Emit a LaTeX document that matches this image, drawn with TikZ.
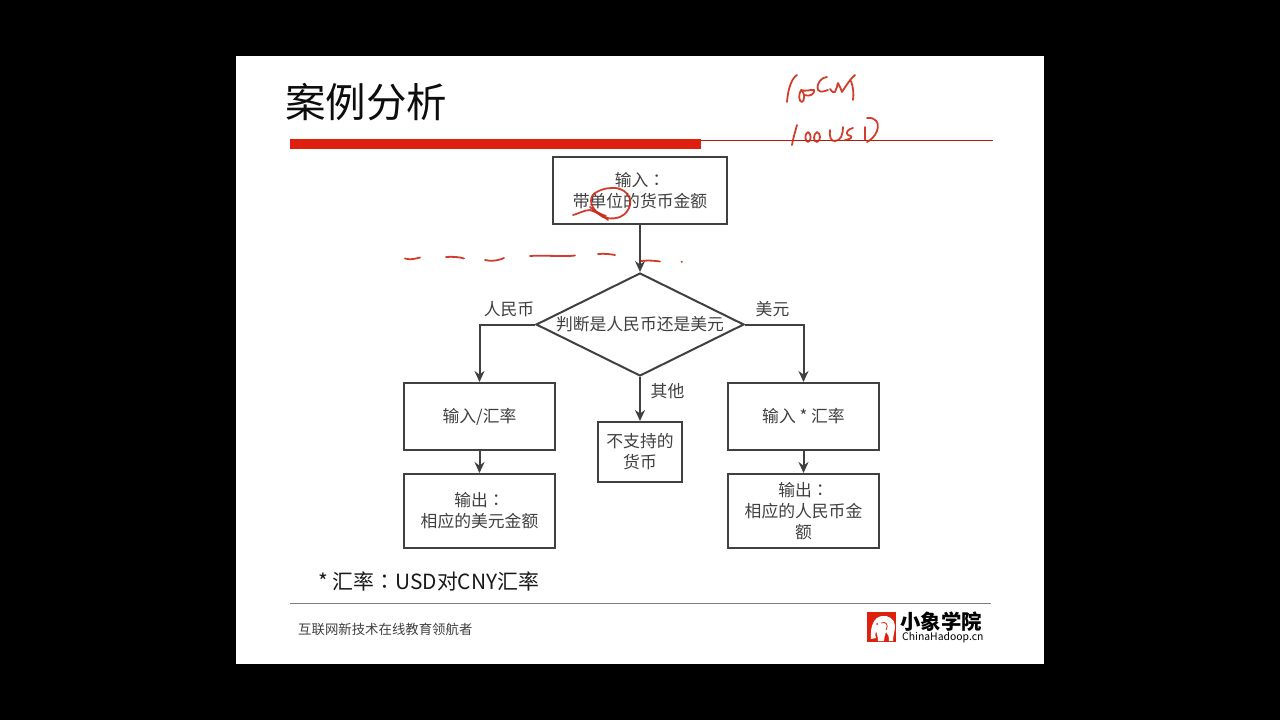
\documentclass[tikz,border=0pt]{standalone}
\usepackage{fontspec}
\setmainfont{Noto Sans CJK SC}
\newfontfamily\colonfont{Noto Sans CJK TC}
\newcommand{\fwcolon}{{\colonfont ：}}
\usetikzlibrary{shapes.geometric,arrows.meta}
\definecolor{inkred}{HTML}{CC2A18}
\definecolor{barred}{HTML}{E0200F}
\definecolor{boxgray}{HTML}{404040}
\definecolor{txtgray}{HTML}{404040}
\tikzset{
	flowbox/.style={draw=boxgray,line width=2pt,fill=white,inner sep=0pt,align=center,text=txtgray,font=\fontsize{16.8}{21}\selectfont},
	flowlabel/.style={text=txtgray,inner sep=0pt,font=\fontsize{16.8}{20}\selectfont},
	flowline/.style={draw=boxgray,line width=2pt,-{Stealth[length=11pt,width=10pt]}},
	ink/.style={draw=inkred,line width=1.8pt,line cap=round,line join=round,opacity=0.9}
}
\begin{document}
\begin{tikzpicture}[x=1pt,y=-1pt]
	\useasboundingbox (0,0) rectangle (1280,720);
	\fill[black] (0,0) rectangle (1280,720);
	\fill[white] (236,56) rectangle (1044,664);
	% header
	\node[anchor=west,inner sep=0pt,text=black!95,font=\fontsize{40.5}{45}\selectfont] (title) at (285,102) {案例分析};
	\fill[barred] (290,139) rectangle (701,149);
	\draw[barred!80!black,line width=1pt] (701,140)--(993,140);
	% flow chart
	\node[flowbox,minimum width=174pt,minimum height=67pt] (input) at (640,190.5) {输入\fwcolon\\带单位的货币金额};
	\node[flowbox,shape=diamond,minimum width=208pt,minimum height=103pt,aspect=2.02] (judge) at (640,324.5) {判断是人民币还是美元};
	\node[flowbox,minimum width=151pt,minimum height=67pt] (divide) at (479.5,416.5) {输入/汇率};
	\node[flowbox,minimum width=84pt,minimum height=60pt] (other) at (640,452) {不支持的\\货币};
	\node[flowbox,minimum width=151pt,minimum height=67pt] (multiply) at (803.5,416.5) {输入 * 汇率};
	\node[flowbox,minimum width=151pt,minimum height=74pt] (usd) at (479.5,511) {输出\fwcolon\\相应的美元金额};
	\node[flowbox,minimum width=151pt,minimum height=74pt] (cny) at (803.5,511) {输出\fwcolon\\相应的人民币金\\额};
	\draw[flowline] (input)--(judge);
	\draw[flowline] (judge.west)-|(divide.north);
	\draw[flowline] (judge.east)-|(multiply.north);
	\draw[flowline] (judge.south)--(other.north);
	\draw[flowline] (divide)--(usd);
	\draw[flowline] (multiply)--(cny);
	\node[flowlabel] (lblcny) at (509,309) {人民币};
	\node[flowlabel] (lblusd) at (772.5,309) {美元};
	\node[flowlabel] (lblother) at (667.5,391) {其他};
	% footer
	\node[anchor=west,inner sep=0pt,text=black!90,font=\fontsize{20.9}{24}\selectfont] (note) at (318,581) {* 汇率\fwcolon USD对CNY汇率};
	\draw[black!50,line width=0.8pt] (290,603.5)--(991,603.5);
	\node[anchor=west,inner sep=0pt,text=txtgray,font=\fontsize{13.4}{16}\selectfont] (slogan) at (298,629) {互联网新技术在线教育领航者};
	% logo
	\fill[barred] (867,612) rectangle (896,642);
	\fill[white] (871,639) .. controls (870,626) and (874,617) .. (882,616)
		.. controls (888,615) and (895,619) .. (895,626)
		.. controls (895,631) and (893,635) .. (893,641)--(889,641)
		.. controls (889,636) and (888,634) .. (886,632)
		.. controls (885,635) and (884,638) .. (884,641)--(878,641)
		.. controls (878,637) and (877,634) .. (876,631)
		.. controls (875,634) and (875,636) .. (876,638)--cycle;
	\draw[barred,line width=0.8pt] (881,623) .. controls (886,621) and (889,625) .. (886,630);
	\fill[barred] (877,624) circle (1pt);
	\node[anchor=west,inner sep=0pt,text=black,font=\fontsize{20.4}{22}\bfseries\selectfont] (logoname) at (900,622) {小象学院};
	\node[anchor=west,inner sep=0pt,text=black,font=\fontsize{10.4}{12}\selectfont] (logosite) at (902,638) {ChinaHadoop.cn};
	% handwriting
	\draw[ink] (797,75) .. controls (792,78) and (788,88) .. (787,102);
	\draw[ink] (801,90) .. controls (798,95) and (799,102) .. (802,102) .. controls (805,101) and (805,92) .. (801,90)
		.. controls (806,92) and (812,89) .. (814,90) .. controls (815,94) and (810,97) .. (804,95);
	\draw[ink] (827,77) .. controls (822,77) and (816,83) .. (818,90) .. controls (821,93) and (825,91) .. (828,90);
	\draw[ink] (830,89) .. controls (832,92) and (834,93) .. (835,92) .. controls (837,89) and (837,85) .. (838,83) .. controls (840,86) and (841,90) .. (842,92) .. controls (846,86) and (850,79) .. (855,75);
	\draw[ink] (851,81) .. controls (853,86) and (854,94) .. (853,100);
	\draw[ink] (797,125) .. controls (795,132) and (793,139) .. (792,145);
	\draw[ink] (808,132) .. controls (804,134) and (805,142) .. (808,142) .. controls (812,141) and (811,133) .. (808,132);
	\draw[ink] (817,132) .. controls (813,134) and (813,142) .. (817,142) .. controls (821,141) and (821,133) .. (817,132);
	\draw[ink] (830,130) .. controls (829,136) and (831,142) .. (835,141) .. controls (841,141) and (843,134) .. (843,127);
	\draw[ink] (853,128) .. controls (848,129) and (845,133) .. (848,135) .. controls (853,136) and (853,139) .. (845,140);
	\draw[ink] (865,127)--(865,140);
	\draw[ink] (867,118) .. controls (875,117) and (880,122) .. (877,131) .. controls (875,136) and (871,140) .. (867,142);
	\draw[ink] (405,258.5) .. controls (410,260) and (415,259) .. (420,257.5);
	\draw[ink] (446,257) .. controls (452,256.5) and (460,257) .. (464,258.5);
	\draw[ink] (485,260) .. controls (492,262) and (500,260) .. (504,258);
	\draw[ink] (530,256) .. controls (545,255) and (565,257) .. (575,255.5);
	\draw[ink] (598,254) .. controls (604,253.5) and (610,254) .. (615,255);
	\draw[ink] (641,261) .. controls (650,260) and (656,261) .. (660,261.5);
	\draw[ink] (681.5,261.5)--(682,262);
	\draw[ink] (573,215) .. controls (578,214) and (584,210) .. (590,210) .. controls (596,212) and (604,216) .. (608,220);
	\draw[ink] (590,207) .. controls (594,211) and (600,214) .. (606,216);
	\draw[ink] (595,193) .. controls (588,198) and (590,209) .. (603,217) .. controls (612,220) and (624,219) .. (629,208)
		.. controls (634,197) and (624,187) .. (612,188) .. controls (605,188) and (600,190) .. (595,193);
\end{tikzpicture}
\end{document}
